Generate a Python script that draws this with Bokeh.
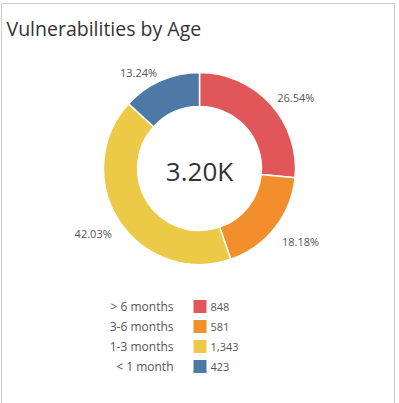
import math
from bokeh.plotting import figure
from bokeh.models import Range1d, ColumnDataSource
from bokeh.core.properties import value
from bokeh.embed import file_html
from bokeh.resources import INLINE

# ---- data ----
categories = ["> 6 months", "3-6 months", "1-3 months", "< 1 month"]
counts = [848, 581, 1343, 423]
colors = ["#E15759", "#F28E2B", "#EDC948", "#4E79A7"]
title_text = "Vulnerabilities by Age"

FONT = "Open Sans"
W, H = 394, 402
PAGE_LEFT, PAGE_TOP = 2, 3
PB = PAGE_TOP + H  # page y of the figure's bottom


def py(y):
    return PB - y


p = figure(width=W, height=H, output_backend="svg", toolbar_location=None,
           x_range=Range1d(PAGE_LEFT, PAGE_LEFT + W), y_range=Range1d(0, H),
           x_axis_location=None, y_axis_location=None, min_border=0,
           margin=(3, -20, -20, 1))
p.grid.visible = False
p.outline_line_color = "#cccccc"
p.outline_line_width = 1
p.background_fill_color = "white"
p.border_fill_color = "white"

total = sum(counts)
fracs = [c / total for c in counts]

# donut
cx, cy = 200, py(168)
R_OUT, R_IN = 96, 62
starts, ends, mids = [], [], []
cum = 0.0
for f in fracs:
    a0 = math.pi / 2 - cum * 2 * math.pi
    a1 = math.pi / 2 - (cum + f) * 2 * math.pi
    starts.append(a0)
    ends.append(a1)
    mids.append((a0 + a1) / 2)
    cum += f

src = ColumnDataSource(dict(start=starts, end=ends, color=colors,
                            x=[cx] * len(counts), y=[cy] * len(counts)))
p.annular_wedge(x="x", y="y", inner_radius=R_IN, outer_radius=R_OUT,
                start_angle="start", end_angle="end", direction="clock",
                fill_color="color", line_color="white", line_width=1.5,
                source=src)

# percentage labels
LR = 105
for m, f in zip(mids, fracs):
    lx = cx + LR * math.cos(m)
    ly = cy + LR * math.sin(m)
    align = "left" if math.cos(m) > 0 else "right"
    base = "middle" if math.sin(m) > 0 else "top"
    p.text(x=[lx], y=[ly], text=[f"{f * 100:.2f}%"], text_align=align,
           text_baseline=base, text_font=value(FONT), text_font_size="11px",
           text_color="#555555")

# center total
total_k = math.floor(total / 10 + 0.5) / 100
p.text(x=[cx], y=[py(170)], text=[f"{total_k:.2f}K"], text_align="center",
       text_baseline="middle", text_font=value(FONT), text_font_size="26px",
       text_color="#333333")

# title
p.text(x=[7], y=[py(28)], text=[title_text], text_align="left",
       text_baseline="middle", text_font=value(FONT), text_font_size="19.5px",
       text_color="#333333")

# legend
row_y = [py(306 + 20 * i) for i in range(len(categories))]
p.text(x=[174] * len(categories), y=row_y, text=categories, text_align="right",
       text_baseline="middle", text_font=value(FONT), text_font_size="12px",
       text_color="#555555")
p.rect(x=[200.5] * len(categories), y=row_y, width=13, height=13,
       fill_color=colors, line_color=None)
p.text(x=[211] * len(categories), y=row_y, text=[f"{c:,}" for c in counts],
       text_align="left", text_baseline="middle", text_font=value(FONT),
       text_font_size="11px", text_color="#555555")

open("out.html", "w").write(file_html(p, INLINE))
